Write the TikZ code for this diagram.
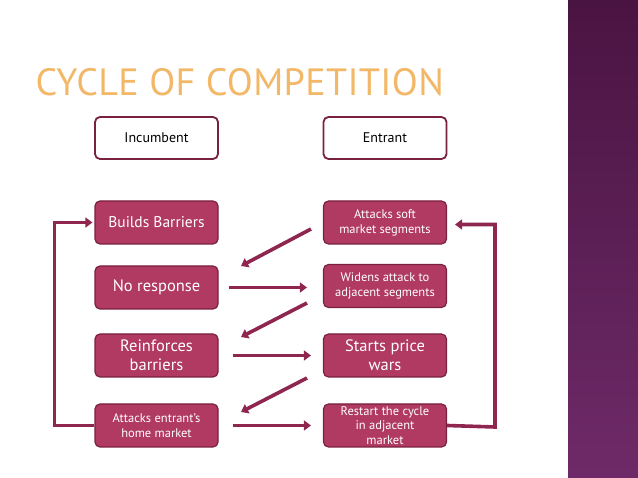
\documentclass[tikz,border=0pt]{standalone}
\usepackage{fontspec}
\setmainfont{PT Sans}
\usetikzlibrary{arrows.meta}
\definecolor{boxfill}{HTML}{B03A62}
\definecolor{boxline}{HTML}{7A2040}
\definecolor{arr}{HTML}{8E2650}
\definecolor{titleor}{HTML}{F2B868}
\definecolor{bartop}{HTML}{4A1442}
\definecolor{barbot}{HTML}{6E2A68}
\begin{document}
\begin{tikzpicture}[x=1pt,y=-1pt,
  hbox/.style={draw=boxline,line width=1.8pt,rounded corners=5pt,fill=white,minimum width=123pt,minimum height=42pt,font=\fontsize{14}{16}\selectfont},
  sbox/.style={draw=boxline,line width=1.2pt,rounded corners=5pt,fill=boxfill,text=white,minimum width=123pt,minimum height=43pt,align=center,inner sep=1pt},
  conn/.style={draw=arr,line width=3.6pt,-{Triangle[length=7pt,width=10pt]}}]
\useasboundingbox (0,0) rectangle (638,478);
\fill[white] (0,0) rectangle (638,478);
\shade[top color=bartop,bottom color=barbot] (568,0) rectangle (638,478);
\node[anchor=west,text=titleor,font=\fontsize{38}{38}\selectfont] (title) at (32,82) {\addfontfeature{LetterSpace=1}CYCLE OF COMPETITION};
\node[hbox] (inc) at (156.5,138) {Incumbent};
\node[hbox] (ent) at (385,138) {Entrant};
\node[sbox,font=\fontsize{15.5}{18}\selectfont] (l1) at (156.5,222.5) {Builds Barriers};
\node[sbox,font=\fontsize{16.5}{19}\selectfont] (l2) at (156.5,287.5) {No response};
\node[sbox,font=\fontsize{16.5}{19}\selectfont] (l3) at (156.5,355.5) {Reinforces\\barriers};
\node[sbox,font=\fontsize{12.5}{15}\selectfont] (l4) at (156.5,425.5) {Attacks entrant’s\\home market};
\node[sbox,font=\fontsize{12.5}{15}\selectfont] (r1) at (385,222.5) {Attacks soft\\market segments};
\node[sbox,font=\fontsize{12.5}{15}\selectfont] (r2) at (385,286) {Widens attack to\\adjacent segments};
\node[sbox,font=\fontsize{16.5}{19}\selectfont] (r3) at (385,355.5) {Starts price\\wars};
\node[sbox,font=\fontsize{12.5}{14.5}\selectfont] (r4) at (385,425.5) {Restart the cycle\\in adjacent\\market};
\coordinate (a1s) at (311,229); \coordinate (a1e) at (241,266);
\coordinate (a3s) at (307,303); \coordinate (a3e) at (241,337);
\coordinate (a5s) at (307,378); \coordinate (a5e) at (241,412);
\draw[conn] (a1s) -- (a1e);
\draw[conn] (a3s) -- (a3e);
\draw[conn] (a5s) -- (a5e);
\draw[conn] ([xshift=10pt]l2.east) -- ([xshift=-16pt]r2.west |- l2.east);
\draw[conn] ([xshift=14pt]l3.east) -- ([xshift=-12pt]r3.west);
\draw[conn] ([xshift=14pt]l4.east) -- ([xshift=-12pt]r4.west);
\draw[conn] (l4.west) -- ++(-40,0) |- ([xshift=-2pt]l1.west);
\draw[conn] (r4.east) -- (495,427) |- ([xshift=8pt,yshift=-2pt]r1.east);
\end{tikzpicture}
\end{document}
